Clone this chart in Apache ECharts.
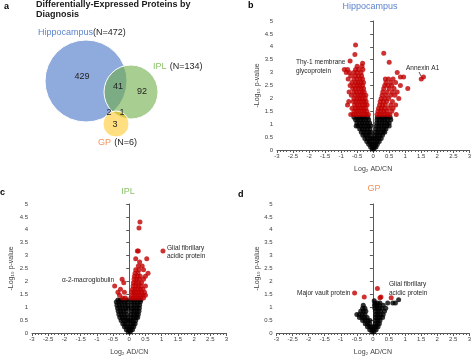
<!DOCTYPE html>
<html><head><meta charset="utf-8">
<script src="https://cdn.jsdelivr.net/npm/echarts@6/dist/echarts.min.js"></script>
<style>html,body{margin:0;padding:0;background:#fff}#c{width:474px;height:357px}</style>
</head><body><div id="c"></div>
<script>
// ---- Venn (panel a) ----
const vennSets = ['Hippocampus', 'IPL', 'GP'];
const vennTotals = [472, 134, 6];
// regions: Hipp only, Hipp∩IPL, IPL only, Hipp∩GP, IPL∩GP, GP only
const vennRegions = [429, 41, 92, 2, 1, 3];

// ---- Volcano data: rows of [ -log10 p , [log2 FC values...] ] ----
const hippBlackRows = [
  [0.04, [-0.03, 0.02]],
  [0.12, [-0.08, -0.02, 0.04, 0.09]],
  [0.22, [-0.14, -0.07, 0.0, 0.07, 0.13]],
  [0.33, [-0.2, -0.12, -0.05, 0.05, 0.12, 0.19]],
  [0.45, [-0.26, -0.18, -0.1, -0.03, 0.04, 0.11, 0.18, 0.25]],
  [0.57, [-0.32, -0.24, -0.16, -0.08, 0.06, 0.13, 0.21, 0.29]],
  [0.69, [-0.37, -0.29, -0.21, -0.13, -0.06, 0.08, 0.15, 0.23, 0.31, 0.36]],
  [0.81, [-0.42, -0.34, -0.26, -0.18, -0.1, 0.09, 0.17, 0.25, 0.33, 0.4]],
  [0.93, [-0.53, -0.47, -0.39, -0.31, -0.23, -0.15, -0.08, 0.1, 0.18, 0.26, 0.34, 0.42, 0.5]],
  [1.05, [-0.51, -0.43, -0.35, -0.27, -0.19, -0.11, 0.11, 0.19, 0.27, 0.35, 0.43, 0.5]],
  [1.17, [-0.55, -0.47, -0.39, -0.31, -0.23, -0.14, 0.12, 0.2, 0.28, 0.36, 0.44, 0.55]],
  [1.27, [-0.6, -0.5, -0.42, -0.34, -0.26, -0.17, 0.13, 0.21, 0.29, 0.37, 0.45, 0.53]]
];
const hippRedRows = [
  [1.38, [-0.7, -0.62, -0.54, -0.46, -0.38, -0.3, -0.22, -0.15, 0.12, 0.2, 0.28, 0.36, 0.45, 0.52, 0.72]],
  [1.5, [-0.6, -0.52, -0.44, -0.36, -0.28, -0.2, 0.15, 0.24, 0.33, 0.42, 0.58]],
  [1.62, [-0.66, -0.55, -0.47, -0.39, -0.31, -0.23, 0.17, 0.26, 0.35, 0.48, 0.62]],
  [1.74, [-0.8, -0.58, -0.5, -0.42, -0.34, -0.26, -0.19, 0.2, 0.29, 0.38, 0.55, 0.7]],
  [1.88, [-0.76, -0.62, -0.53, -0.45, -0.37, -0.29, -0.22, 0.22, 0.32, 0.42, 0.6]],
  [2.0, [-0.6, -0.5, -0.42, -0.34, -0.25, 0.25, 0.36, 0.48, 0.8]],
  [2.12, [-0.68, -0.56, -0.47, -0.39, -0.31, -0.23, 0.28, 0.4, 0.55, 0.68]],
  [2.25, [-0.75, -0.6, -0.52, -0.43, -0.35, -0.28, 0.3, 0.44, 0.6, 0.75]],
  [2.38, [-0.64, -0.55, -0.46, -0.38, -0.3, 0.33, 0.5, 0.65, 1.08]],
  [2.5, [-0.72, -0.6, -0.5, -0.42, -0.33, 0.36, 0.46, 0.58, 0.85]],
  [2.62, [-0.66, -0.55, -0.47, -0.38, -0.3, 0.4, 0.55, 0.7]],
  [2.75, [-0.78, -0.6, -0.5, -0.41, -0.33, 0.38, 0.48, 0.62, 1.5]],
  [2.83, [0.85, 0.95, 1.57]],
  [2.88, [-0.7, -0.56, -0.46, -0.36]],
  [3.0, [-0.84, -0.74, -0.6, -0.5, -0.38, 0.75]],
  [3.12, [-0.9, -0.8, -0.55, -0.45, -0.32]],
  [3.25, [-0.5, -0.35]],
  [3.36, [-0.33]],
  [3.4, [0.5]],
  [3.45, [-0.72]],
  [3.7, [-0.57]],
  [3.75, [0.33]],
  [4.07, [-0.55]]
];
const iplBlackRows = [
  [0.04, [-0.03, 0.03]],
  [0.13, [-0.09, -0.02, 0.05, 0.1]],
  [0.24, [-0.15, -0.08, 0.0, 0.08, 0.14]],
  [0.36, [-0.2, -0.13, -0.05, 0.05, 0.12, 0.18]],
  [0.48, [-0.25, -0.17, -0.09, -0.02, 0.05, 0.12, 0.2]],
  [0.6, [-0.29, -0.21, -0.13, -0.05, 0.06, 0.13, 0.21, 0.26]],
  [0.72, [-0.32, -0.24, -0.16, -0.07, 0.06, 0.14, 0.22, 0.28]],
  [0.84, [-0.34, -0.26, -0.18, -0.09, 0.07, 0.15, 0.23, 0.3]],
  [0.96, [-0.36, -0.28, -0.2, -0.11, -0.04, 0.07, 0.15, 0.23, 0.31]],
  [1.08, [-0.38, -0.3, -0.22, -0.13, -0.05, 0.07, 0.16, 0.24, 0.32]],
  [1.2, [-0.4, -0.32, -0.24, -0.15, -0.06, 0.07, 0.16, 0.25, 0.34]],
  [1.28, [-0.35, -0.27, -0.18, -0.08, 0.08, 0.18, 0.28, 0.36]]
];
const iplRedRows = [
  [1.36, [-0.2, -0.12, 0.05, 0.12, 0.2, 0.28, 0.36, 0.44]],
  [1.46, [-0.3, 0.1, 0.18, 0.26, 0.34, 0.42, 0.5]],
  [1.58, [-0.35, -0.15, 0.08, 0.15, 0.22, 0.3, 0.38, 0.47]],
  [1.7, [-0.27, 0.1, 0.18, 0.26, 0.34, 0.42]],
  [1.82, [-0.45, 0.12, 0.2, 0.28, 0.36, 0.5]],
  [1.95, [-0.17, 0.13, 0.21, 0.29, 0.38]],
  [2.08, [-0.22, 0.15, 0.23, 0.31, 0.44]],
  [2.2, [0.16, 0.25, 0.34, 0.5]],
  [2.32, [0.18, 0.27, 0.58]],
  [2.45, [0.2, 0.3, 0.44]],
  [2.6, [0.28, 0.4]],
  [2.75, [0.32]],
  [2.88, [0.2, 0.54]],
  [3.18, [0.25, 0.28, 1.04]],
  [4.07, [0.3]],
  [4.3, [0.33]]
];
const gpBlackRows = [
  [0.04, [-0.03, 0.03]],
  [0.13, [-0.1, -0.03, 0.04, 0.1]],
  [0.24, [-0.17, -0.1, -0.03, 0.04, 0.1, 0.16]],
  [0.36, [-0.24, -0.17, -0.1, 0.07, 0.14, 0.2]],
  [0.48, [-0.32, -0.24, -0.16, -0.09, 0.08, 0.15, 0.22]],
  [0.6, [-0.42, -0.34, -0.26, -0.18, 0.08, 0.15, 0.22, 0.3]],
  [0.72, [-0.5, -0.42, -0.33, -0.25, 0.08, 0.15, 0.23, 0.32]],
  [0.84, [-0.38, -0.3, -0.22, 0.08, 0.16, 0.24, 0.36]],
  [0.96, [-0.32, -0.25, 0.06, 0.13, 0.2, 0.28, 0.4]],
  [1.08, [-0.3, 0.05, 0.12, 0.2, 0.32]],
  [1.16, [0.06, 0.14, 0.22, 0.46, 0.62, 0.7]],
  [1.25, [0.04]],
  [1.29, [0.8]]
];
const gpRedRows = [
  [1.55, [-0.57]],
  [1.4, [-0.27, 0.25]],
  [1.72, [0.14]],
  [1.37, [0.22, 0.57]]
];

function pts(rows) {
  const out = [];
  rows.forEach(r => r[1].forEach(x => out.push([x, r[0]])));
  return out;
}

const FONT = '"Liberation Sans", Arial, sans-serif';
const AX = '#595959';
const grids = [
  {left: 277, top: 21, width: 194, height: 129},
  {left: 32, top: 204, width: 194.5, height: 130},
  {left: 276.5, top: 204, width: 194, height: 129}
];
const yGaps = [11, 17, 14];

function xAx(i) {
  return {
    gridIndex: i, type: 'value', min: -3, max: 3, interval: 0.5,
    axisLine: {onZero: false, lineStyle: {color: AX, width: 1}},
    axisTick: {show: true, length: 3, lineStyle: {color: AX}},
    minorTick: {show: true, splitNumber: 5, length: 2, lineStyle: {color: AX}},
    splitLine: {show: false}, minorSplitLine: {show: false},
    axisLabel: {fontSize: 6, color: '#404040', margin: 3.5, fontFamily: FONT, showMinLabel: true, showMaxLabel: true},
    name: 'Log₂ AD/CN', nameLocation: 'middle', nameGap: 16,
    nameTextStyle: {fontSize: 7, color: '#404040', fontFamily: FONT}
  };
}
function yAx(i) {
  return {
    gridIndex: i, type: 'value', min: 0, max: 5, interval: 0.5,
    axisLine: {show: true, lineStyle: {color: AX, width: 1}},
    axisTick: {show: true, length: 3, lineStyle: {color: AX}},
    splitLine: {show: false},
    axisLabel: {fontSize: 6, color: '#404040', margin: 4, fontFamily: FONT},
    name: '-Log₁₀ p-value', nameLocation: 'middle', nameGap: yGaps[i], nameRotate: 90,
    nameTextStyle: {fontSize: 7, color: '#404040', fontFamily: FONT}
  };
}
function sc(i, data, color) {
  return {type: 'scatter', xAxisIndex: i, yAxisIndex: i, data: data, symbolSize: 5,
    itemStyle: {color: color}, silent: true};
}
function txt(t, x, y, size, color, opts) {
  return Object.assign({type: 'text', silent: true, style: Object.assign({
    text: t, x: x, y: y, fontSize: size, fontFamily: FONT, fill: color,
    textVerticalAlign: 'middle', textAlign: 'left'}, (opts || {}))});
}
function circ(cx, cy, r, fill) {
  return {type: 'circle', silent: true, shape: {cx: cx, cy: cy, r: r},
    style: {fill: fill, stroke: '#ffffff', lineWidth: 1}};
}

const setColors = ['#5B84CC', '#8CC26B', '#F0925E'];
const graphic = [
  // panel letters & panel a title
  txt('a', 4, 7, 9, '#000', {fontWeight: 'bold'}),
  txt('Differentially-Expressed Proteins by', 36, 5, 9, '#1a1a1a', {fontWeight: 'bold'}),
  txt('Diagnosis', 36, 15, 9, '#1a1a1a', {fontWeight: 'bold'}),
  txt('b', 248, 6, 9, '#000', {fontWeight: 'bold'}),
  txt('c', 0, 193, 9, '#000', {fontWeight: 'bold'}),
  txt('d', 238, 195, 9, '#000', {fontWeight: 'bold'}),
  // Venn circles
  circ(86, 81, 41, 'rgba(68,114,196,0.6)'),
  circ(131, 92, 27, 'rgba(112,173,71,0.6)'),
  circ(116, 124, 13, 'rgba(255,192,0,0.5)'),
  // Venn set labels
  {type: 'text', silent: true, style: {x: 38, y: 33, text: '{s|' + vennSets[0] + '}{n|(N=' + vennTotals[0] + ')}',
    textVerticalAlign: 'middle', rich: {s: {fill: setColors[0], fontSize: 9, fontFamily: FONT}, n: {fill: '#262626', fontSize: 9, fontFamily: FONT}}}},
  {type: 'text', silent: true, style: {x: 153, y: 67, text: '{s|' + vennSets[1] + '} {n|(N=' + vennTotals[1] + ')}',
    textVerticalAlign: 'middle', rich: {s: {fill: setColors[1], fontSize: 9, fontFamily: FONT}, n: {fill: '#262626', fontSize: 9, fontFamily: FONT}}}},
  {type: 'text', silent: true, style: {x: 98, y: 143, text: '{s|' + vennSets[2] + '} {n|(N=' + vennTotals[2] + ')}',
    textVerticalAlign: 'middle', rich: {s: {fill: setColors[2], fontSize: 9, fontFamily: FONT}, n: {fill: '#262626', fontSize: 9, fontFamily: FONT}}}},
  // Venn region counts
  txt(String(vennRegions[0]), 82, 77, 9, '#1f1f1f', {textAlign: 'center'}),
  txt(String(vennRegions[1]), 118, 87, 9, '#1f1f1f', {textAlign: 'center'}),
  txt(String(vennRegions[2]), 142, 92, 9, '#1f1f1f', {textAlign: 'center'}),
  txt(String(vennRegions[3]), 109, 113, 9, '#1f1f1f', {textAlign: 'center'}),
  txt(String(vennRegions[4]), 122, 113, 9, '#1f1f1f', {textAlign: 'center'}),
  txt(String(vennRegions[5]), 115, 125, 9, '#1f1f1f', {textAlign: 'center'}),
  // panel titles
  txt('Hippocampus', 370, 7, 9, setColors[0], {textAlign: 'center'}),
  txt('IPL', 128, 192, 9, setColors[1], {textAlign: 'center'}),
  txt('GP', 374, 189, 9, setColors[2], {textAlign: 'center'}),
  // annotations
  txt('Thy-1 membrane', 296, 62, 6.5, '#262626'),
  txt('glycoprotein', 296, 71, 6.5, '#262626'),
  txt('Annexin A1', 406, 68, 6.5, '#262626'),
  {type: 'line', silent: true, shape: {x1: 419, y1: 72, x2: 421, y2: 76}, style: {stroke: '#262626', lineWidth: 0.8}},
  txt('Glial fibrillary', 167, 248, 6.5, '#262626'),
  txt('acidic protein', 167, 256, 6.5, '#262626'),
  txt('α-2-macroglobulin', 62, 280, 6.5, '#262626'),
  txt('Major vault protein', 297, 293, 6.5, '#262626'),
  txt('Glial fibrillary', 389, 284, 6.5, '#262626'),
  txt('acidic protein', 389, 293, 6.5, '#262626')
];

const chart = echarts.init(document.getElementById('c'), null, {renderer: 'canvas'});
chart.setOption({
  animation: false,
  backgroundColor: '#ffffff',
  grid: grids,
  xAxis: [xAx(0), xAx(1), xAx(2)],
  yAxis: [yAx(0), yAx(1), yAx(2)],
  series: [
    sc(0, pts(hippBlackRows), '#000000'),
    sc(0, pts(hippRedRows), '#C00000'),
    sc(1, pts(iplBlackRows), '#000000'),
    sc(1, pts(iplRedRows), '#C00000'),
    sc(2, pts(gpBlackRows), '#000000'),
    sc(2, pts(gpRedRows), '#C00000')
  ],
  graphic: graphic
});
</script></body></html>
